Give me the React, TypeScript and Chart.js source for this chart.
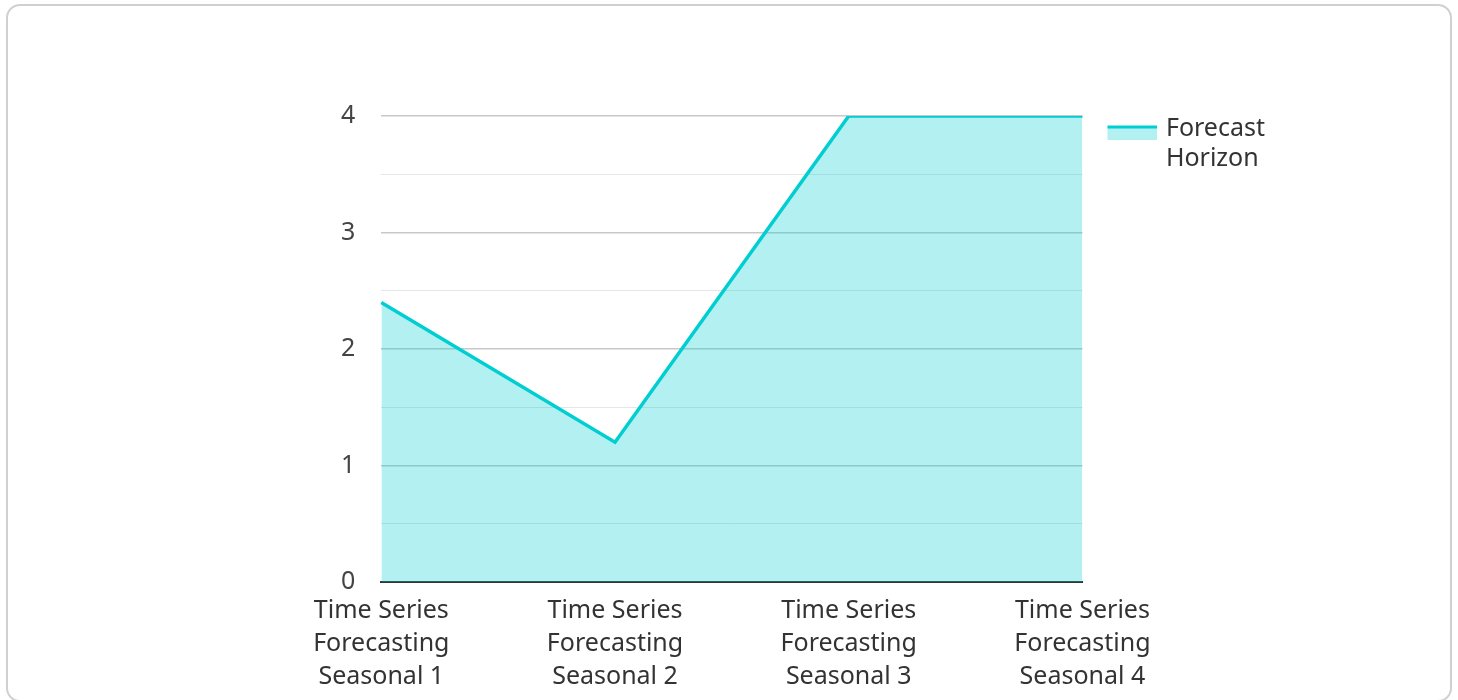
import React, { useEffect, useRef } from "react";
import { Chart, registerables } from "chart.js";

Chart.register(...registerables);

const categories: string[][] = [
  ["Time Series", "Forecasting", "Seasonal 1"],
  ["Time Series", "Forecasting", "Seasonal 2"],
  ["Time Series", "Forecasting", "Seasonal 3"],
  ["Time Series", "Forecasting", "Seasonal 4"],
];
const seriesLabel: string[] = ["Forecast", "Horizon"];
const seriesValues: number[] = [2.4, 1.2, 4, 4];
const yMin = 0;
const yMax = 4;
const yStep = 0.5;

const LINE = "#00CED1";
const FILL = "rgba(0,206,209,0.3)";
const FONT = "'Noto Sans', sans-serif";

function makeLegendImage(): HTMLCanvasElement {
  const c = document.createElement("canvas");
  c.width = 79;
  c.height = 22;
  const g = c.getContext("2d")!;
  g.fillStyle = FILL;
  g.fillRect(29, 11, 50, 11);
  g.fillStyle = LINE;
  g.fillRect(29, 8, 50, 3);
  return c;
}

export default function App() {
  const ref = useRef<HTMLCanvasElement | null>(null);
  useEffect(() => {
    document.body.style.margin = "0";
    const img = makeLegendImage();
    const chart = new Chart(ref.current!, {
      type: "line",
      data: {
        labels: categories,
        datasets: [
          {
            label: seriesLabel.join(" "),
            data: seriesValues,
            borderColor: LINE,
            backgroundColor: FILL,
            borderWidth: 3.5,
            fill: true,
            pointRadius: 0,
            pointHoverRadius: 0,
            tension: 0,
          },
        ],
      },
      options: {
        animation: false,
        responsive: true,
        maintainAspectRatio: false,
        layout: { padding: { left: 307, top: 110, right: 175, bottom: -5 } },
        font: { family: FONT, size: 25 },
        plugins: {
          tooltip: { enabled: false },
          legend: {
            position: "right",
            align: "start",
            labels: {
              usePointStyle: true,
              pointStyleWidth: 71,
              padding: 0,
              color: "#333333",
              font: { family: FONT, size: 25, lineHeight: "30px" },
              generateLabels: (ch: any) =>
                ch.data.datasets.map((ds: any, i: number) => ({
                  text: seriesLabel,
                  fillStyle: FILL,
                  strokeStyle: LINE,
                  lineWidth: 0,
                  pointStyle: img,
                  hidden: false,
                  datasetIndex: i,
                  fontColor: "#333333",
                })),
            },
          },
        },
        scales: {
          x: {
            offset: false,
            grid: { display: false, drawTicks: false },
            border: { display: true, color: "#333333", width: 2 },
            ticks: {
              color: "#333333",
              padding: 12,
              maxRotation: 0,
              autoSkip: false,
              font: { family: FONT, size: 25, lineHeight: "33px" },
            },
          },
          y: {
            min: yMin,
            max: yMax,
            border: { display: false },
            grid: {
              drawTicks: false,
              color: (ctx: any) =>
                Number.isInteger(ctx.tick?.value) ? "#c8c8c8" : "#e6e6e6",
              lineWidth: (ctx: any) => (Number.isInteger(ctx.tick?.value) ? 1.5 : 1),
            },
            ticks: {
              stepSize: yStep,
              padding: 26,
              color: "#444444",
              font: { family: FONT, size: 25 },
              callback: (v: any) => (Number.isInteger(Number(v)) ? String(v) : ""),
            },
          },
        },
      },
    });
    return () => chart.destroy();
  }, []);

  return (
    <div
      style={{
        position: "absolute",
        left: 6,
        top: 4,
        width: 1446,
        height: 698,
        border: "2px solid #d0d0d0",
        borderRadius: 14,
        boxSizing: "border-box",
        background: "#ffffff",
      }}
    >
      <canvas ref={ref} />
    </div>
  );
}
